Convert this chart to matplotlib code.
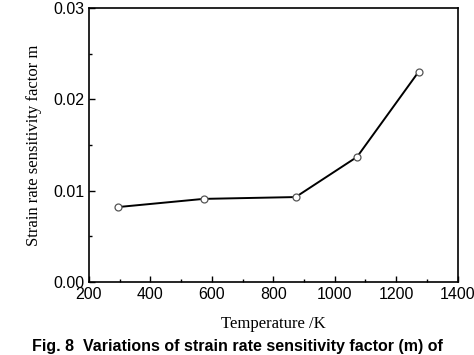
import matplotlib.pyplot as plt
from matplotlib.ticker import MultipleLocator

temperature = [293, 573, 873, 1073, 1273]
m_factor = [0.0082, 0.0091, 0.0093, 0.0137, 0.0230]

x_ticks = [200, 400, 600, 800, 1000, 1200, 1400]
y_ticks = [0.00, 0.01, 0.02, 0.03]
y_tick_labels = ['0.00', '0.01', '0.02', '0.03']

fig = plt.figure(figsize=(4.74, 3.55), dpi=100)
ax = fig.add_axes([89 / 474, 1 - 282 / 355, (457.5 - 89) / 474, (282 - 8) / 355])

ax.plot(temperature, m_factor, color='black', lw=1.4,
        marker='o', ms=5, mfc='white', mec='#555555', mew=0.9)

ax.set_xlim(200, 1400)
ax.set_ylim(0, 0.03)
ax.set_xticks(x_ticks)
ax.set_yticks(y_ticks)
ax.set_yticklabels(y_tick_labels)
ax.xaxis.set_minor_locator(MultipleLocator(100))
ax.yaxis.set_minor_locator(MultipleLocator(0.005))
ax.tick_params(which='both', direction='in', top=False, right=False)
ax.tick_params(which='major', length=4, width=1)
ax.tick_params(which='minor', length=2.5, width=1)
for lab in ax.get_xticklabels() + ax.get_yticklabels():
    lab.set_family('Liberation Sans')
    lab.set_fontsize(11.5)
for s in ax.spines.values():
    s.set_linewidth(1.2)

ax.set_xlabel('Temperature /K', family='Liberation Serif', fontsize=12, labelpad=10)
ax.set_ylabel('Strain rate sensitivity factor m', family='Liberation Serif', fontsize=12, labelpad=8)

# figure caption below the plot
fig.text(0.5, 1 - 351 / 355, 'Fig. 8  Variations of strain rate sensitivity factor (m) of',
         family='Liberation Sans', fontweight='bold', fontsize=11.5, ha='center', va='baseline')

fig.savefig('out.png', dpi=100)
